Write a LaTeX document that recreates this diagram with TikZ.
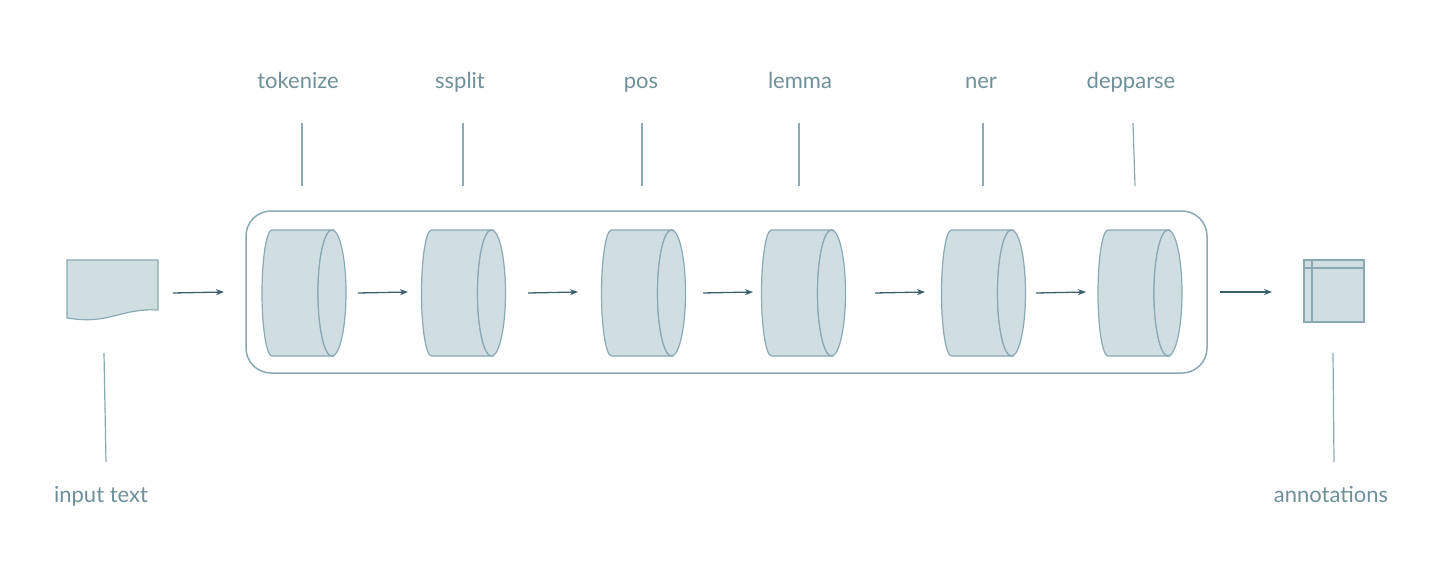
\documentclass[tikz,border=0pt]{standalone}
\usepackage{fontspec}
\setmainfont{Lato}
\usetikzlibrary{arrows.meta}
\definecolor{fillc}{HTML}{D0DEE2}
\definecolor{strokec}{HTML}{8AA9B2}
\definecolor{textc}{HTML}{6F8F99}
\definecolor{arrowc}{HTML}{3D5F6A}
\begin{document}
\begin{tikzpicture}[x=1pt,y=-1pt,
  lbl/.style={text=textc,font=\fontsize{22}{26}\selectfont,inner sep=0pt,text height=16pt,text depth=5pt},
  lead/.style={draw=strokec,line width=1.2pt},
  flow/.style={draw=arrowc,line width=1.3pt,-{Stealth[length=8pt,width=6pt]}},
  shp/.style={draw=strokec,fill=fillc,line width=1.2pt}]
\useasboundingbox (0,0) rectangle (1452,562);
\draw[draw=strokec,line width=1.5pt,rounded corners=25pt] (246,211) rectangle (1207,373);
% cylinders
\foreach \n/\cx in {1/304,2/463.5,3/643.5,4/803.5,5/983.5,6/1140}{
  \begin{scope}[shift={(\cx,293)}]
  \path[shp] (-32,-63) -- (28,-63) arc[start angle=270,end angle=90,x radius=14,y radius=63] -- (-32,63) arc[start angle=90,end angle=270,x radius=10,y radius=63] -- cycle;
  \path[shp] (28,0) ellipse[x radius=14,y radius=63];
  \end{scope}
  \coordinate (cl\n) at (\cx-45,293);
  \coordinate (cr\n) at (\cx+45,293);
}
% labels
\foreach \nm/\lx/\tx/\ly in {tokenize/298/302/302,ssplit/460/463/463,pos/641/642/642,lemma/800/799/799,ner/981/983/983,depparse/1131/1133/1135}{
  \node[lbl] (l-\nm) at (\lx,83) {\nm};
  \coordinate (a-\nm) at (\tx,123);
  \coordinate (b-\nm) at (\ly,186);
  \draw[lead] (a-\nm) -- (b-\nm);
}
% document
\path[shp] (67,260) -- (158,260) -- (158,310) .. controls (120,308) and (110,325) .. (67,318) -- cycle;
\node[inner sep=0pt] (doc) at (112,290) {};
% annotations icon
\path[shp] (1304,260) rectangle (1364,322);
\draw[strokec,line width=1.2pt] (1312,260) -- (1312,322) (1304,268) -- (1364,268);
\node[inner sep=0pt] (ann) at (1334,291) {};
% flow arrows
\coordinate (d0) at (173,293); \coordinate (d1) at (224,292);
\draw[flow] (d0) -- (d1);
\coordinate (e0) at (1220,292); \coordinate (e1) at (1272,292);
\draw[flow] (e0) -- (e1);
\foreach \a/\b/\xa/\xb in {1/2/358/408,2/3/528/578,3/4/703/753,4/5/875/925,5/6/1036/1086}{
  \coordinate (f\a) at (\xa,293); \coordinate (g\a) at (\xb,292);
  \draw[flow] (f\a) -- (g\a);
}
% bottom labels
\node[lbl] (in) at (101,497) {input text};
\node[lbl] (out) at (1331,497) {annotations};
\coordinate (p1) at (104,353); \coordinate (p2) at (106,462);
\draw[lead] (p1) -- (p2);
\coordinate (q1) at (1333,353); \coordinate (q2) at (1334,462);
\draw[lead] (q1) -- (q2);
\end{tikzpicture}
\end{document}
